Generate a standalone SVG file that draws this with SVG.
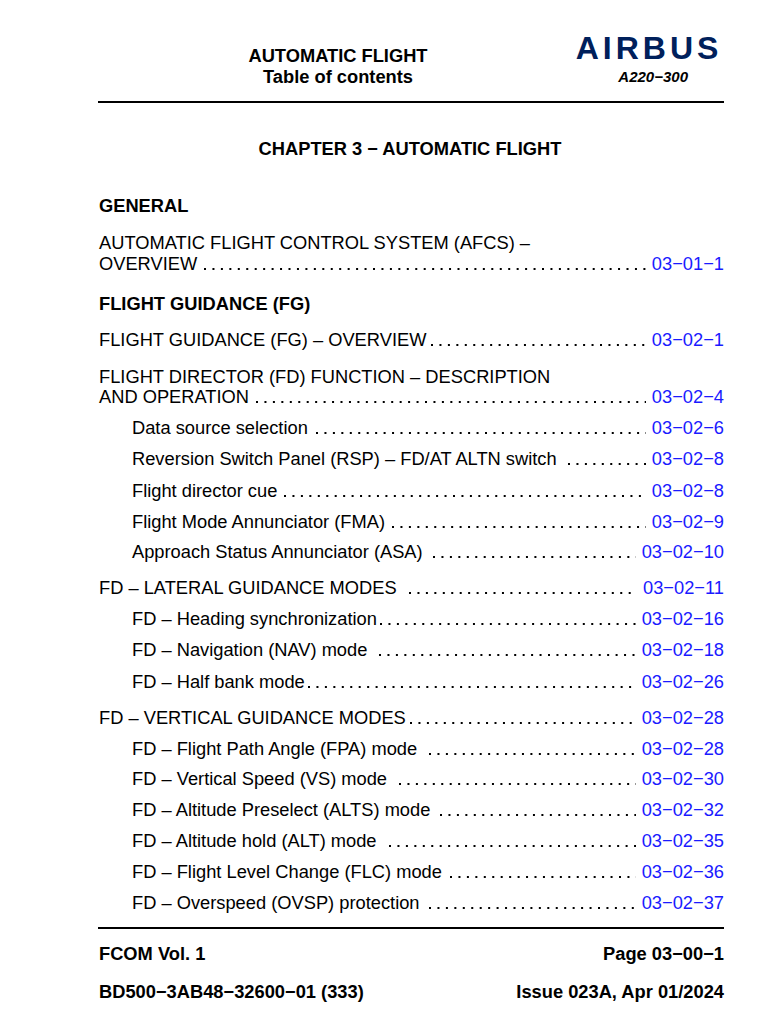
<svg xmlns="http://www.w3.org/2000/svg" width="768" height="1024" viewBox="0 0 768 1024">
<style>
text{font-family:"Liberation Sans",Arial,sans-serif;font-size:18.3px;fill:#000}
.b{font-weight:bold;font-size:18.3px}
.p{fill:#1a1aff;text-anchor:end}
.d{stroke:#000;stroke-width:2;stroke-dasharray:2 6.45}
.r{stroke:#000;stroke-width:2}
</style>
<rect width="768" height="1024" fill="#fff"/>
<g id="header">
<text class="b" x="338" y="62" text-anchor="middle">AUTOMATIC FLIGHT</text>
<text class="b" x="338" y="83" text-anchor="middle">Table of contents</text>
<text x="649" y="59" text-anchor="middle" style="font-size:32px;font-weight:bold;fill:#00205b;letter-spacing:4px">AIRBUS</text>
<text x="688" y="82" text-anchor="end" style="font-size:15px;font-weight:bold;font-style:italic">A220−300</text>
<line class="r" x1="98" y1="102" x2="724" y2="102"/>
<text class="b" x="410" y="155" text-anchor="middle">CHAPTER 3 − AUTOMATIC FLIGHT</text>
</g>
<g id="toc">
<text class="b" x="99" y="212">GENERAL</text>
<text x="99" y="249">AUTOMATIC FLIGHT CONTROL SYSTEM (AFCS) –</text>
<text x="99" y="270">OVERVIEW</text><line class="d" x1="204" y1="269" x2="646" y2="269"/><text class="p" x="724" y="270">03−01−1</text>
<text class="b" x="99" y="310">FLIGHT GUIDANCE (FG)</text>
<text x="99" y="346">FLIGHT GUIDANCE (FG) – OVERVIEW</text><line class="d" x1="431" y1="345" x2="646" y2="345"/><text class="p" x="724" y="346">03−02−1</text>
<text x="99" y="383">FLIGHT DIRECTOR (FD) FUNCTION – DESCRIPTION</text>
<text x="99" y="403">AND OPERATION</text><line class="d" x1="256" y1="402" x2="646" y2="402"/><text class="p" x="724" y="403">03−02−4</text>
<text x="132" y="434">Data source selection</text><line class="d" x1="316" y1="433" x2="646" y2="433"/><text class="p" x="724" y="434">03−02−6</text>
<text x="132" y="465">Reversion Switch Panel (RSP) – FD/AT ALTN switch</text><line class="d" x1="568" y1="464" x2="646" y2="464"/><text class="p" x="724" y="465">03−02−8</text>
<text x="132" y="497">Flight director cue</text><line class="d" x1="284" y1="496" x2="646" y2="496"/><text class="p" x="724" y="497">03−02−8</text>
<text x="132" y="528">Flight Mode Annunciator (FMA)</text><line class="d" x1="392" y1="527" x2="646" y2="527"/><text class="p" x="724" y="528">03−02−9</text>
<text x="132" y="558">Approach Status Annunciator (ASA)</text><line class="d" x1="433" y1="557" x2="636" y2="557"/><text class="p" x="724" y="558">03−02−10</text>
<text x="99" y="594">FD – LATERAL GUIDANCE MODES</text><line class="d" x1="409" y1="593" x2="636" y2="593"/><text class="p" x="724" y="594">03−02−11</text>
<text x="132" y="625">FD – Heading synchronization</text><line class="d" x1="380" y1="624" x2="636" y2="624"/><text class="p" x="724" y="625">03−02−16</text>
<text x="132" y="656">FD – Navigation (NAV) mode</text><line class="d" x1="379" y1="655" x2="636" y2="655"/><text class="p" x="724" y="656">03−02−18</text>
<text x="132" y="688">FD – Half bank mode</text><line class="d" x1="308" y1="687" x2="636" y2="687"/><text class="p" x="724" y="688">03−02−26</text>
<text x="99" y="724">FD – VERTICAL GUIDANCE MODES</text><line class="d" x1="410" y1="723" x2="636" y2="723"/><text class="p" x="724" y="724">03−02−28</text>
<text x="132" y="755">FD – Flight Path Angle (FPA) mode</text><line class="d" x1="429" y1="754" x2="636" y2="754"/><text class="p" x="724" y="755">03−02−28</text>
<text x="132" y="785">FD – Vertical Speed (VS) mode</text><line class="d" x1="399" y1="784" x2="636" y2="784"/><text class="p" x="724" y="785">03−02−30</text>
<text x="132" y="816">FD – Altitude Preselect (ALTS) mode</text><line class="d" x1="440" y1="815" x2="636" y2="815"/><text class="p" x="724" y="816">03−02−32</text>
<text x="132" y="847">FD – Altitude hold (ALT) mode</text><line class="d" x1="389" y1="846" x2="636" y2="846"/><text class="p" x="724" y="847">03−02−35</text>
<text x="132" y="878">FD – Flight Level Change (FLC) mode</text><line class="d" x1="450" y1="877" x2="636" y2="877"/><text class="p" x="724" y="878">03−02−36</text>
<text x="132" y="909">FD – Overspeed (OVSP) protection</text><line class="d" x1="429" y1="908" x2="636" y2="908"/><text class="p" x="724" y="909">03−02−37</text>
</g>
<g id="footer">
<line class="r" x1="98" y1="928" x2="724" y2="928"/>
<text class="b" x="99" y="960">FCOM Vol. 1</text>
<text class="b" x="724" y="960" text-anchor="end">Page 03−00−1</text>
<text class="b" x="99" y="998">BD500−3AB48−32600−01 (333)</text>
<text class="b" x="724" y="998" text-anchor="end">Issue 023A, Apr 01/2024</text>
</g>
</svg>
